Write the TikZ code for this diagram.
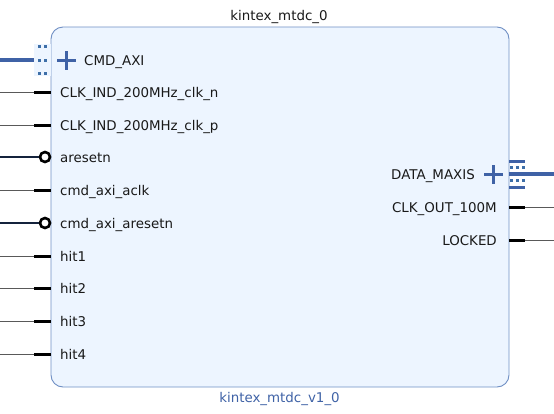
\documentclass[tikz,border=0pt]{standalone}
\usepackage{fontspec}
\setmainfont{DejaVu Sans}
\usepackage{xcolor}
\usetikzlibrary{arrows.meta,positioning,calc}
\definecolor{blockfill}{HTML}{EDF5FF}
\definecolor{blockedge}{HTML}{6F8FC4}
\definecolor{busblue}{HTML}{3F62A6}
\definecolor{dotblue}{HTML}{3E6FA8}
\definecolor{wirenavy}{HTML}{14233C}
\tikzset{
  pinlabel/.style={font=\fontsize{13.4}{15}\selectfont,inner sep=0pt,text=black!90},
  thinwire/.style={line width=0.8pt,draw=black!65},
  stubline/.style={line width=3pt,draw=black},
  resetwire/.style={line width=2.4pt,draw=wirenavy},
  buswire/.style={line width=4pt,draw=busblue},
  plussign/.style={line width=3pt,draw=busblue}
}
\begin{document}
\begin{tikzpicture}[x=1pt,y=-1pt,>=Latex]
  \useasboundingbox (0,0) rectangle (554,413);
  \node[draw=blockedge,fill=blockfill,line width=0.9pt,rounded corners=12pt,
    minimum width=458pt,minimum height=360pt,inner sep=0pt] (block) at (280,207) {};
  \node[pinlabel,anchor=base] (title) at (279,20) {kintex\_mtdc\_0};
  \node[pinlabel,anchor=base,text=busblue] (ipname) at (279.5,402) {kintex\_mtdc\_v1\_0};

  % plain input pins
  \foreach \y/\name/\txt in {92/clkn/CLK\_IND\_200MHz\_clk\_n,125/clkp/CLK\_IND\_200MHz\_clk\_p,
      190/aclk/cmd\_axi\_aclk,256/hita/hit1,288/hitb/hit2,321/hitc/hit3,354/hitd/hit4} {
    \coordinate (\name free) at (0,\y);
    \coordinate (\name stub) at (34,\y);
    \coordinate (\name edge) at (51,\y);
    \node[pinlabel,anchor=base west] (\name) at (60,\y+5) {\txt};
    \draw[thinwire] (\name free) -- (\name stub);
    \draw[stubline] (\name stub) -- (\name edge);
  }

  % active low pins
  \foreach \y/\name/\txt in {157/aresetn/aresetn,223/axireset/cmd\_axi\_aresetn} {
    \coordinate (\name free) at (0,\y);
    \node[circle,draw=black,line width=2.6pt,fill=white,minimum size=10pt,inner sep=0pt] (\name dot) at (45,\y) {};
    \node[pinlabel,anchor=base west] (\name) at (60,\y+5) {\txt};
    \draw[resetwire] (\name free) -- (\name dot);
  }

  % slave interface
  \fill[blockfill] (34,44) rectangle (51,76);
  \coordinate (cmdfree) at (0,60);
  \coordinate (cmdstub) at (34,60);
  \draw[buswire] (cmdfree) -- (cmdstub);
  \foreach \y in {46.5,60,73} {
    \fill[dotblue] (37.5,\y-1.5) rectangle ++(3,3);
    \fill[dotblue] (44,\y-1.5) rectangle ++(3,3);
  }
  \draw[plussign] (57,60) -- (76,60);
  \draw[plussign] (66.5,51) -- (66.5,70);
  \node[pinlabel,anchor=base west] (cmdaxi) at (84,65) {CMD\_AXI};

  % master interface
  \foreach \y in {161,187} {
    \fill[busblue] (509,\y-1.5) rectangle (525,\y+1.5);
  }
  \foreach \y in {167.5,180.5} {
    \foreach \x in {511,517,523} {
      \fill[dotblue] (\x-1.5,\y-1.5) rectangle ++(3,3);
    }
  }
  \coordinate (maxisstub) at (509,174);
  \coordinate (maxisfree) at (554,174);
  \draw[buswire] (maxisstub) -- (maxisfree);
  \draw[plussign] (484,174) -- (503,174);
  \draw[plussign] (493,165) -- (493,184);
  \node[pinlabel,anchor=base east] (maxis) at (475,179) {DATA\_MAXIS};

  % output pins
  \foreach \y/\name/\txt in {207/clkout/CLK\_OUT\_100M,240/locked/LOCKED} {
    \coordinate (\name edge) at (509,\y);
    \coordinate (\name stub) at (525,\y);
    \coordinate (\name free) at (554,\y);
    \node[pinlabel,anchor=base east] (\name) at (497,\y+5) {\txt};
    \draw[stubline] (\name edge) -- (\name stub);
    \draw[thinwire] (\name stub) -- (\name free);
  }
\end{tikzpicture}
\end{document}
